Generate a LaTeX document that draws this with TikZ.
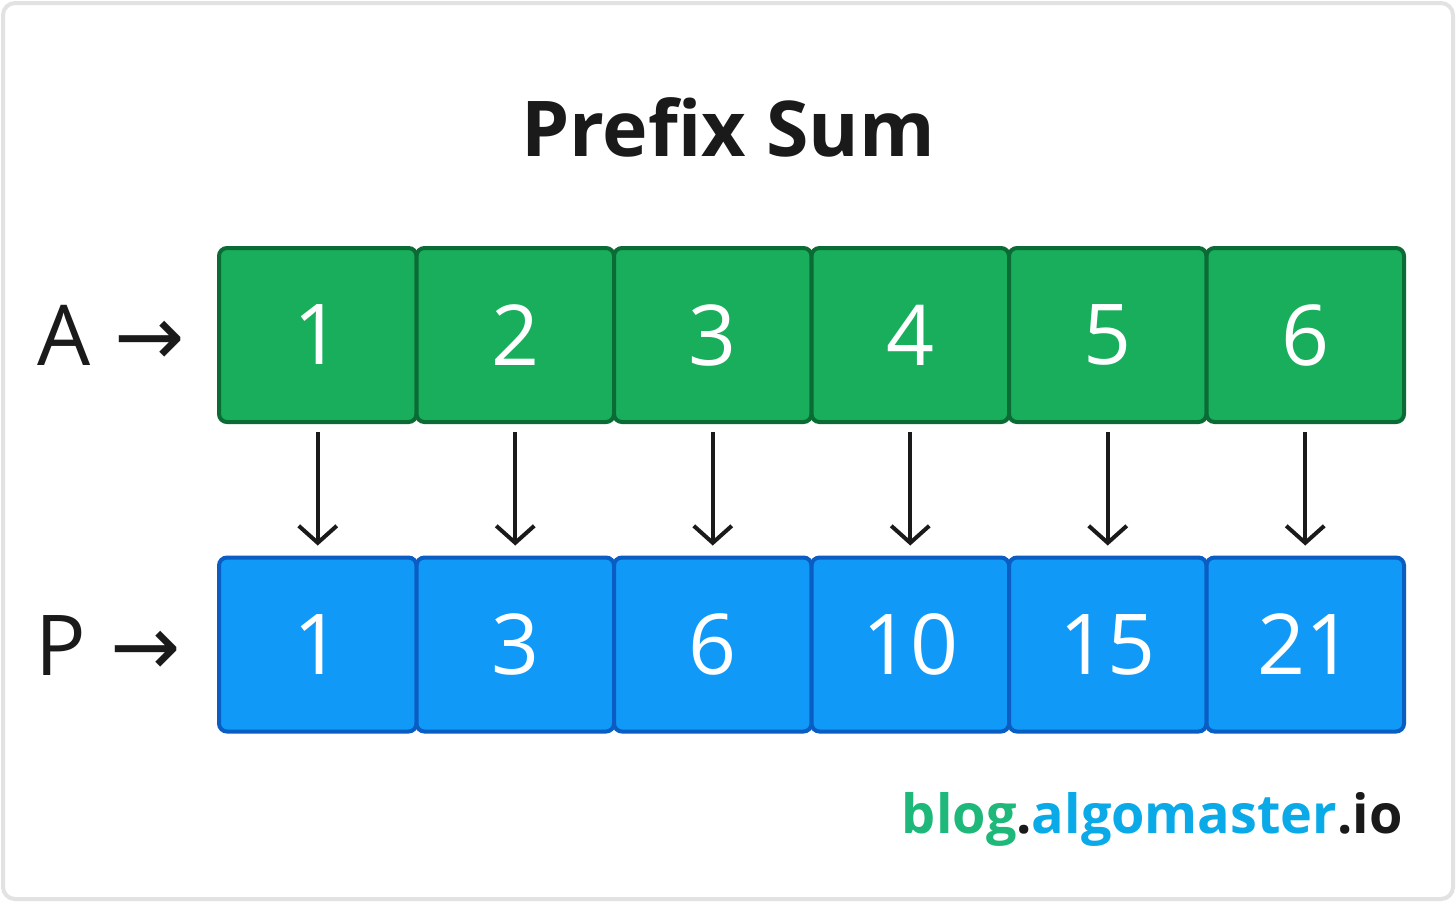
\documentclass[tikz,border=0pt]{standalone}
\usepackage{fontspec}
\setmainfont{Open Sans}
\newfontfamily\arrowfont{DejaVu Sans}
\usetikzlibrary{arrows.meta}
\definecolor{gfill}{HTML}{18AE5C}
\definecolor{gdraw}{HTML}{0B6B35}
\definecolor{bfill}{HTML}{1199F8}
\definecolor{bdraw}{HTML}{0A5DC2}
\definecolor{card}{HTML}{E2E2E2}
\definecolor{txt}{HTML}{1A1A1A}
\definecolor{blogg}{HTML}{1DB87A}
\definecolor{blogb}{HTML}{0AAAE8}
\tikzset{
  cellbase/.style={rectangle, rounded corners=4pt, line width=2pt, minimum width=98.75pt, minimum height=87pt, inner sep=0pt, text=white, font=\fontsize{42}{48}\selectfont},
  gcell/.style={cellbase, fill=gfill, draw=gdraw},
  bcell/.style={cellbase, fill=bfill, draw=bdraw},
  rowlabel/.style={text=txt, font=\fontsize{42}{48}\selectfont, inner sep=0pt},
  flow/.style={draw=txt, line width=2pt, -{Straight Barb[length=8.5pt,width=19pt,line width=2pt]}, shorten <=4pt, shorten >=5pt}
}
\begin{document}
\begin{tikzpicture}[x=0.5pt,y=-0.5pt]
\useasboundingbox (0,0) rectangle (1456,902);
\draw[card, line width=2pt, rounded corners=6pt, fill=white] (3,3) rectangle (1453,899);
\node[text=txt, font=\bfseries\fontsize{38.5}{46}\selectfont, inner sep=0pt] (title) at (728,127) {Prefix Sum};
\node[rowlabel] (la) at (111,335) {A\hspace{12pt}{\arrowfont →}};
\node[rowlabel] (lp) at (108,645) {P\hspace{12pt}{\arrowfont →}};
\foreach \i/\a/\p in {0/1/1,1/2/3,2/3/6,3/4/10,4/5/15,5/6/21}{
  \node[gcell] (g\i) at ({219+197.5*(\i+0.5)},335) {\a};
  \node[bcell] (b\i) at ({219+197.5*(\i+0.5)},644.5) {\p};
  \draw[flow] (g\i.south) -- (b\i.north);
}
\node[font=\bfseries\fontsize{27}{32}\selectfont, inner sep=0pt, anchor=base east] (brand) at (1403,833) {\textcolor{blogg}{blog}\textcolor{txt}{.}\textcolor{blogb}{algomaster}\textcolor{txt}{.io}};
\end{tikzpicture}
\end{document}
